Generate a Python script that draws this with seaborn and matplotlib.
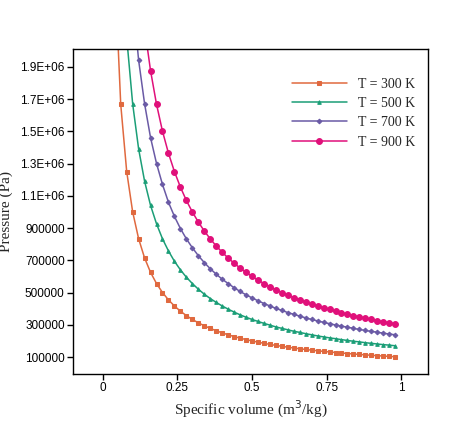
import matplotlib
matplotlib.use("Agg")
import matplotlib.pyplot as plt
import seaborn as sns
import pandas as pd

V = [0.02,0.04,0.06,0.08,0.10,0.12,0.14,0.16,0.18,0.20,0.22,0.24,0.26,0.28,0.30,0.32,0.34,0.36,0.38,0.40,
     0.42,0.44,0.46,0.48,0.50,0.52,0.54,0.56,0.58,0.60,0.62,0.64,0.66,0.68,0.70,0.72,0.74,0.76,0.78,0.80,
     0.82,0.84,0.86,0.88,0.90,0.92,0.94,0.96,0.98]
P300 = [5000000,2500000,1666667,1250000,1000000,833333,714286,625000,555556,500000,454545,416667,384615,357143,333333,
        312500,294118,277778,263158,250000,238095,227273,217391,208333,200000,192308,185185,178571,172414,166667,
        161290,156250,151515,147059,142857,138889,135135,131579,128205,125000,121951,119048,116279,113636,111111,
        108696,106383,104167,102041]
P500 = [8330000,4170000,2780000,2080000,1670000,1390000,1190000,1040000,926000,833000,758000,694000,641000,595000,556000,
        521000,490000,463000,439000,417000,397000,379000,362000,347000,333000,321000,309000,298000,287000,278000,
        269000,260000,253000,245000,238000,231000,225000,219000,214000,208000,203000,198000,194000,189000,185000,
        181000,177000,174000,170000]
P700 = [11700000,5830000,3890000,2920000,2330000,1940000,1670000,1460000,1300000,1170000,1060000,972000,897000,833000,778000,
        729000,686000,648000,614000,583000,556000,530000,507000,486000,467000,449000,432000,417000,402000,389000,
        376000,365000,354000,343000,333000,324000,315000,307000,299000,292000,285000,278000,271000,265000,259000,
        254000,248000,243000,238000]
P900 = [15000000,7500000,5000000,3750000,3000000,2500000,2140000,1875000,1667000,1500000,1364000,1250000,1154000,1071000,1000000,
        937500,882000,833000,789000,750000,714000,682000,652000,625000,600000,577000,556000,536000,517000,500000,
        484000,469000,455000,441000,429000,417000,405000,395000,385000,375000,366000,357000,349000,341000,333000,
        326000,319000,312000,306000]
labels = ["T = 300 K", "T = 500 K", "T = 700 K", "T = 900 K"]
colors = ["#e0693f", "#1b9e77", "#6a5aa5", "#e0107a"]
markers = ["s", "^", "D", "o"]
msizes = [2.2, 2.6, 2.4, 4.2]
yticks = [100000,300000,500000,700000,900000,1100000,1300000,1500000,1700000,1900000]
ytick_labels = ["100000","300000","500000","700000","900000","1.1E+06","1.3E+06","1.5E+06","1.7E+06","1.9E+06"]
xticks = [0,0.25,0.5,0.75,1]
xtick_labels = ["0","0.25","0.5","0.75","1"]

sns.set_style("ticks")
fig = plt.figure(figsize=(4.74, 4.21), dpi=100)
ax = fig.add_axes([73/474, 1-374/421, 355/474, 325/421])
for P, lab, c, m, ms in zip([P300, P500, P700, P900], labels, colors, markers, msizes):
    df = pd.DataFrame({"V": V, "P": P})
    sns.lineplot(data=df, x="V", y="P", ax=ax, color=c, marker=m, markersize=ms,
                 markeredgecolor=c, linewidth=1.1, label=lab, sort=False)
ax.set_xlim(-0.1, 1.09)
ax.set_ylim(-5000, 2010000)
ax.set_xticks(xticks)
ax.set_xticklabels(xtick_labels, fontsize=8.5, family="Liberation Sans")
ax.set_yticks(yticks)
ax.set_yticklabels(ytick_labels, fontsize=8.5, family="Liberation Sans")
ax.set_xlabel("Specific volume (m$^3$/kg)", family="Liberation Serif", fontsize=11, labelpad=3)
ax.set_ylabel("Pressure (Pa)", family="Liberation Serif", fontsize=11)
ax.yaxis.set_label_coords(-0.17, 0.5)
for s in ax.spines.values():
    s.set_linewidth(1.0)
    s.set_color("black")
ax.tick_params(direction="out", length=4, width=1, colors="black", pad=2)
leg = ax.legend(loc="upper right", bbox_to_anchor=(1.0, 0.95), frameon=False,
                prop={"family": "Liberation Serif", "size": 10}, handlelength=4, labelspacing=0.45)
fig.savefig("out.png", dpi=100)
